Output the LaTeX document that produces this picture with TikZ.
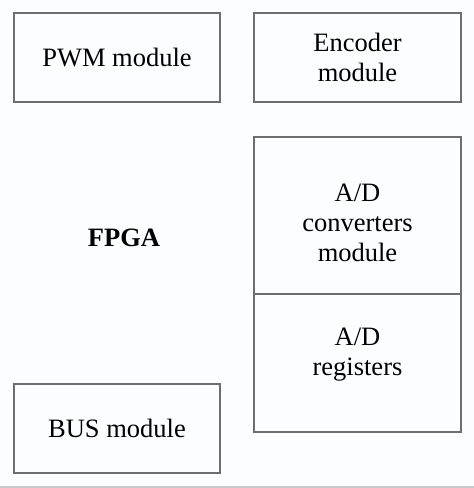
\documentclass[tikz,border=0pt]{standalone}
\usepackage{fontspec}
\setmainfont{Liberation Serif}
\definecolor{bg}{HTML}{FCFDFE}
\definecolor{edge}{HTML}{6E6E6E}
\definecolor{bar}{HTML}{C8CAC8}
\begin{document}
\begin{tikzpicture}[x=1pt,y=-1pt,
  modbox/.style={draw=edge,line width=1.1pt,fill=none,inner sep=0pt,align=center,
    font=\fontsize{26.5}{30}\selectfont},
  lbl/.style={align=center,font=\fontsize{26.5}{30}\selectfont}]
\fill[bg] (0,0) rectangle (474,488);
\fill[bar] (0,486) rectangle (474,488);
\useasboundingbox (0,0) rectangle (474,488);
\node[modbox,minimum width=206pt,minimum height=89pt] (pwm) at (117,57.5) {PWM module};
\node[modbox,minimum width=207pt,minimum height=89pt] (enc) at (357.5,57.5) {Encoder\\module};
\node[modbox,minimum width=207pt,minimum height=157pt,
  label={[lbl,yshift=-7pt]center:A/D\\converters\\module}] (adc) at (357.5,215.5) {};
\node[modbox,minimum width=207pt,minimum height=138pt,
  label={[lbl,yshift=8pt]center:A/D\\registers}] (adr) at (357.5,363) {};
\node[modbox,minimum width=206pt,minimum height=89pt] (bus) at (117,428.5) {BUS module};
\node[font=\fontsize{26.5}{30}\selectfont\bfseries] (fpga) at (124,238) {FPGA};
\end{tikzpicture}
\end{document}
